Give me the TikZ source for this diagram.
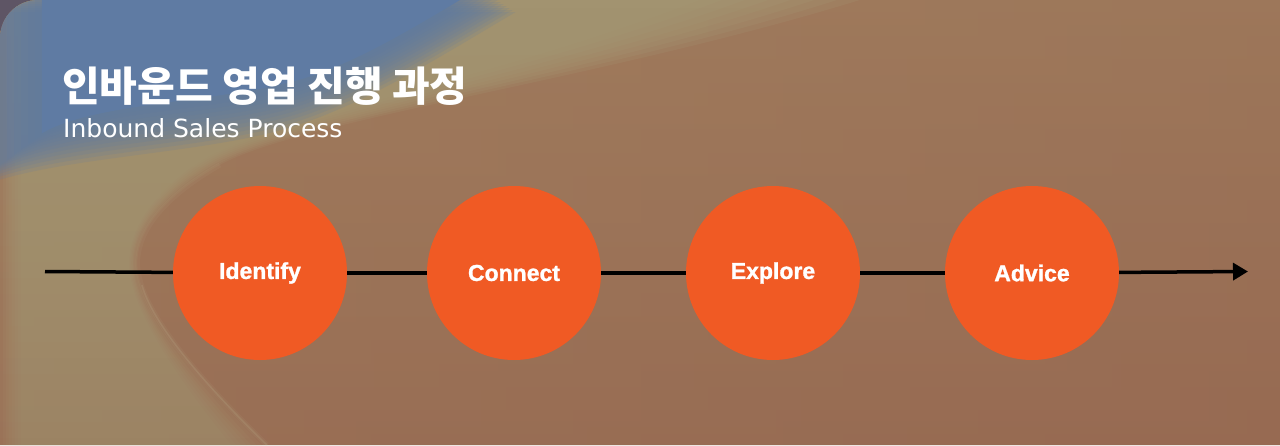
\documentclass[tikz,border=0pt]{standalone}
\usepackage{fontspec}
\setmainfont{Noto Sans CJK KR}
\newfontfamily\labelfont{Liberation Sans}[BoldFeatures={FakeBold=1.2}]
\newfontfamily\subfont{DejaVu Sans}
\usetikzlibrary{arrows.meta,fadings}
\definecolor{cornerdark}{HTML}{5E5565}
\definecolor{bgtop}{HTML}{A07D5E}
\definecolor{bgbot}{HTML}{976A52}
\definecolor{beige}{HTML}{A69A76}
\definecolor{skyblue}{HTML}{5F7BA3}
\definecolor{rimlight}{HTML}{B5A583}
\definecolor{stepfill}{HTML}{F05A24}
\tikzfading[name=fadedown, top color=transparent!0, bottom color=transparent!55]
\tikzset{
  stepcircle/.style={circle, fill=stepfill, minimum size=174pt, inner sep=0pt,
    text=white, font=\labelfont\bfseries\fontsize{23}{23}\selectfont},
  flowline/.style={line width=3.5pt, black},
  titletext/.style={text=white, inner sep=0pt, anchor=west,
    font=\bfseries\fontsize{41}{41}\selectfont},
  subtext/.style={text=white, inner sep=0pt, anchor=base west,
    font=\subfont\fontsize{25}{25}\selectfont},
}
\begin{document}
\begin{tikzpicture}[x=1pt,y=-1pt]
\useasboundingbox (0,0) rectangle (1280,445);
\fill[cornerdark] (0,0) rectangle (1280,445);
\begin{scope}
  \clip (0,445) -- (0,38) .. controls (0,17) and (17,0) .. (38,0) -- (1280,0) -- (1280,445) -- cycle;
  % base gradient
  \shade[top color=bgtop, bottom color=bgbot] (0,0) rectangle (1280,445);
  \shade[left color=bgtop, right color=bgbot, opacity=0.3] (0,0) rectangle (1280,445);
  % beige band left of the curve, soft toward the right, fading downward
  \foreach \s in {1.0,0.97,0.94,0.91,0.88,0.85,0.82,0.79} {
    \fill[beige, opacity=0.2, path fading=fadedown, shift={(100,0)}, xscale=\s, shift={(-100,0)}]
      (0,0) -- (860,0) .. controls (600,80) and (300,120) .. (220,165)
      .. controls (150,205) and (130,245) .. (140,280)
      .. controls (150,320) and (200,380) .. (267,445)
      -- (0,445) -- cycle;
  }
  % light rim along the curve
  \draw[rimlight, opacity=0.1, line width=5pt]
      (220,165) .. controls (150,205) and (130,245) .. (140,280)
      .. controls (150,320) and (200,380) .. (267,445);
  \draw[rimlight, opacity=0.25, line width=1.5pt]
      (142,285) .. controls (152,322) and (200,380) .. (267,445);
  % blue region with soft edge
  \foreach \i in {0,...,11} {
    \pgfmathsetmacro{\s}{1.12-0.02*\i}
    \fill[skyblue, opacity=0.17, shift={(350,-100)}, scale=\s, shift={(-350,100)}]
      (0,0) -- (498,0) .. controls (430,40) and (360,85) .. (290,105)
      .. controls (200,130) and (60,130) .. (0,165) -- cycle;
  }
  \fill[skyblue, shift={(350,-100)}, scale=0.88, shift={(-350,100)}]
      (0,0) -- (498,0) .. controls (430,40) and (360,85) .. (290,105)
      .. controls (200,130) and (60,130) .. (0,165) -- cycle;
\end{scope}
% titles
\node[titletext] (title) at (62,86) {인바운드 영업 진행 과정};
\node[subtext] (subtitle) at (63,137) {Inbound Sales Process};
% steps
\node[stepcircle] (c1) at (260,273) {Identify};
\node[stepcircle] (c2) at (514,273) {Connect};
\node[stepcircle] (c3) at (773,273) {Explore};
\node[stepcircle] (c4) at (1032,273) {\raisebox{-2pt}{Advice}};
\coordinate (s) at (45,271.5);
\coordinate (e) at (1248,271.5);
\draw[flowline] (s) -- (c1);
\draw[flowline] (c1) -- (c2);
\draw[flowline] (c2) -- (c3);
\draw[flowline] (c3) -- (c4);
\draw[flowline, -{Triangle[length=15pt,width=17pt]}] (c4) -- (e);
\end{tikzpicture}
\end{document}
